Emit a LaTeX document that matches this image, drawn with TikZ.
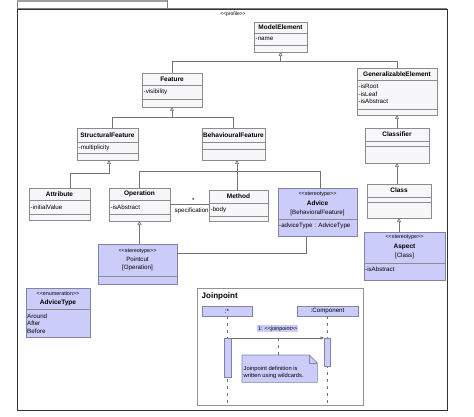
\documentclass[tikz,border=0pt]{standalone}
\usepackage{fontspec}
\setmainfont{Liberation Sans}
\usetikzlibrary{arrows.meta}
\definecolor{lav}{RGB}{204,204,250}
\definecolor{lavborder}{RGB}{130,130,165}
\definecolor{clsborder}{RGB}{140,140,140}
\definecolor{clsfill}{RGB}{247,247,249}
\definecolor{linegray}{RGB}{115,115,115}
\newcommand{\ltlt}{<\kern0pt<}
\newcommand{\gtgt}{>\kern0pt>}
\newcommand{\umlbox}[7][cls]{%
  \node[#1, minimum width={(#5)-(#3)}, minimum height={(#6)-(#4)}] (#2) at ({((#3)+(#5))/2},{((#4)+(#6))/2}) {};
  \foreach \d in {#7} {\draw[div] (#2.west |- 0,\d) -- (#2.east |- 0,\d);}%
}
\begin{document}
\begin{tikzpicture}[x=1pt,y=-1pt,
  cls/.style={draw=clsborder, fill=clsfill, line width=0.6pt, inner sep=0pt, outer sep=0pt},
  ster/.style={cls, fill=lav, draw=lavborder},
  div/.style={draw=clsborder, line width=0.5pt},
  ttl/.style={font=\fontsize{6.5}{7}\selectfont\bfseries, inner sep=0pt},
  att/.style={font=\fontsize{6.2}{7}\selectfont, inner sep=0pt, anchor=west},
  txt/.style={font=\fontsize{6.2}{7}\selectfont, inner sep=0pt},
  stt/.style={font=\fontsize{5.4}{6}\selectfont, inner sep=0pt},
  conn/.style={draw=linegray, line width=0.6pt},
  gen/.style={conn, -{Triangle[open, length=4pt, width=4pt]}},
  life/.style={draw=linegray, line width=0.5pt, dash pattern=on 3pt off 4pt},
  msg/.style={draw=linegray, line width=0.6pt, -{Latex[length=4pt, width=3.5pt]}},
]
\useasboundingbox (0,0) rectangle (474,417);
% outer frame and tab
\draw[draw=gray, line width=0.6pt, fill=white] (17,0.5) rectangle (167,8);
\fill[gray!75] (17,0) rectangle (167,2);
\node[draw=black!80, line width=0.9pt, minimum width=430, minimum height=401, inner sep=0pt] (frame) at (232,209.5) {};
\draw[gray, line width=0.8pt] (frame.north west) -- (frame.north east);
\node[stt, font=\fontsize{5}{6}\selectfont] (prof) at (233,14) {\ltlt profile\gtgt};

% classes
\umlbox{me}{254}{22}{307}{52}{33,45}
\node[ttl] (meT) at (me.north |- 0,27.5) {ModelElement};
\node[att] (meA) at ([xshift=1.5pt]me.west |- 0,39) {-name};

\umlbox{feat}{142}{73}{202}{107}{85,99}
\node[ttl] (featT) at (feat.north |- 0,79) {Feature};
\node[att] (featA) at ([xshift=1.5pt]feat.west |- 0,92) {-visibility};

\umlbox{ge}{357}{68}{437}{115}{80,109}
\node[ttl] (geT) at (ge.north |- 0,74) {GeneralizableElement};
\node[att] (geA1) at ([xshift=1.5pt]ge.west |- 0,86.5) {-isRoot};
\node[att] (geA2) at ([xshift=1.5pt]ge.west |- 0,94) {-isLeaf};
\node[att] (geA3) at ([xshift=1.5pt]ge.west |- 0,101.5) {-isAbstract};

\umlbox{sf}{77}{128}{138}{160}{142,153}
\node[ttl] (sfT) at (sf.north |- 0,135) {StructuralFeature};
\node[att] (sfA) at ([xshift=1.5pt]sf.west |- 0,147.5) {-multiplicity};

\umlbox{bf}{202}{128}{265}{160}{142,149}
\node[ttl] (bfT) at (bf.north |- 0,135) {BehaviouralFeature};

\umlbox{clsf}{365}{128}{429}{163}{141,146}
\node[ttl] (clsfT) at (clsf.north |- 0,134.5) {Classifier};

\umlbox{class}{367}{184}{431}{218}{197,202}
\node[ttl] (classT) at (class.north |- 0,190.5) {Class};

\umlbox{attr}{29}{188}{90}{220}{200.5,214}
\node[ttl] (attrT) at (attr.north |- 0,194) {Attribute};
\node[att] (attrA) at ([xshift=1.5pt]attr.west |- 0,207) {-initialValue};

\umlbox{op}{109}{188}{170}{221}{200.5,214.5}
\node[ttl] (opT) at (op.north |- 0,194) {Operation};
\node[att] (opA) at ([xshift=1.5pt]op.west |- 0,207.5) {-isAbstract};

\umlbox{meth}{209}{190}{268}{221}{203,216}
\node[ttl] (methT) at (meth.north |- 0,196.5) {Method};
\node[att] (methA) at ([xshift=1.5pt]meth.west |- 0,209.5) {-body};

% stereotypes
\umlbox[ster]{adv}{278}{188}{357}{236}{219}
\node[stt] (advS) at (adv.north |- 0,194) {\ltlt stereotype\gtgt};
\node[ttl] (advT) at (adv.north |- 0,203.5) {Advice};
\node[txt] (advB) at (adv.north |- 0,212.5) {[BehavioralFeature]};
\node[att] (advA) at ([xshift=1pt]adv.west |- 0,225.5) {-adviceType : AdviceType};

\umlbox[ster]{pc}{98}{244}{177}{284}{276}
\node[stt] (pcS) at (pc.north |- 0,251) {\ltlt stereotype\gtgt};
\node[txt] (pcT) at (pc.north |- 0,259) {Pointcut};
\node[txt] (pcB) at (pc.north |- 0,267.5) {[Operation]};

\umlbox[ster]{asp}{364}{232}{445}{280}{263}
\node[stt] (aspS) at (asp.north |- 0,237.5) {\ltlt stereotype\gtgt};
\node[ttl] (aspT) at (asp.north |- 0,247) {Aspect};
\node[txt] (aspB) at (asp.north |- 0,256) {[Class]};
\node[att] (aspA) at ([xshift=1pt]asp.west |- 0,269.5) {-isAbstract};

\umlbox[ster]{at}{26}{288}{90}{337}{309}
\node[stt] (atS) at (at.north |- 0,293.5) {\ltlt enumeration\gtgt};
\node[ttl] (atT) at (at.north |- 0,302.5) {AdviceType};
\node[att] (atA1) at ([xshift=1pt]at.west |- 0,316) {Around};
\node[att] (atA2) at ([xshift=1pt]at.west |- 0,323.5) {After};
\node[att] (atA3) at ([xshift=1pt]at.west |- 0,331) {Before};

% junctions
\coordinate (jTop) at (280.5,61);
\coordinate (jF) at (172,117);
\coordinate (jSFL) at (112,117);
\coordinate (jBFR) at (233,117);
\coordinate (jSF) at (109,173);
\coordinate (jA) at (70,173);
\coordinate (jBF) at (237,171);
\coordinate (jAdv) at (320,171);
\coordinate (jPC) at (306,253);

% generalizations
\draw[gen] (feat.north) |- (jTop) -- (me.south);
\draw[conn] (ge.north) |- (jTop);
\draw[conn] (sf.north -| jSFL) -- (jSFL) -- (jBFR) -- (bf.north -| jBFR);
\draw[gen] (jF) -- (feat.south);
\draw[gen] (attr.north -| jA) |- (jSF) -- (sf.south -| jSF);
\draw[gen] (meth.north -| jBF) -- (bf.south -| jBF);
\draw[conn] (op.north) |- (jBF);
\draw[conn] (adv.north -| jAdv) |- (jBF);
\draw[gen] (clsf.north) -- (clsf.north |- ge.south);
\draw[gen] (class.north -| clsf.south) -- (clsf.south);
\draw[gen] (asp.north -| class.south) -- (class.south);
\draw[gen] (pc.north -| op.south) -- (op.south);

% associations
\draw[conn] (op.east) -- (op.east -| meth.west)
  node[pos=0.6, above=2pt, txt] (mult) {*}
  node[pos=1, yshift=-3pt, att, anchor=north east] (spec) {specification};
\draw[conn] (adv.south -| jPC) |- (pc.east |- jPC);

% Joinpoint interaction
\node[draw=gray!85, line width=0.6pt, fill=white, minimum width=166, minimum height=117, inner sep=0pt] (jp) at (280,346.5) {};
\node[font=\fontsize{8}{9}\selectfont\bfseries, anchor=west, inner sep=0pt] (jpT) at (201.5,296) {Joinpoint};
\node[ster, minimum width=50, minimum height=10] (la) at (227,311) {};
\node[txt] (laT) at (la) {:*};
\node[ster, minimum width=61, minimum height=10] (lb) at (327.5,311) {};
\node[txt] (lbT) at (lb) {:Component};
\coordinate (laEnd) at (227,403);
\coordinate (lbEnd) at (327.5,403);
\draw[life] (la.south) -- (laEnd);
\draw[life] (lb.south) -- (lbEnd);
\node[ster, minimum width=7, minimum height=39] (aa) at (227.5,357.5) {};
\node[ster, minimum width=6, minimum height=28] (ab) at (327.5,352) {};
\draw[msg] (aa.north east) -- (ab.north west)
  node[midway, above=5.5pt, stt, fill=lav, inner sep=1pt] (msgL) {1: \ltlt joinpoint\gtgt};
\coordinate (msgP) at (278,338);
\node[inner sep=0pt, minimum width=75, minimum height=27, anchor=north west] (note) at (242,355) {};
\draw[lavborder, fill=lav, line width=0.6pt] (note.north west) -- ([xshift=-8pt]note.north east) -- ([yshift=-8pt]note.north east) -- (note.south east) -- (note.south west) -- cycle;
\draw[lavborder, line width=0.6pt] ([xshift=-8pt]note.north east) |- ([yshift=-8pt]note.north east);
\draw[life] (note.north -| msgP) -- (msgP);
\node[txt, align=left, anchor=north west, font=\fontsize{5.8}{7}\selectfont] (noteT) at (243.5,366.5) {Joinpoint definition is\\written using wildcards.};
\end{tikzpicture}
\end{document}
